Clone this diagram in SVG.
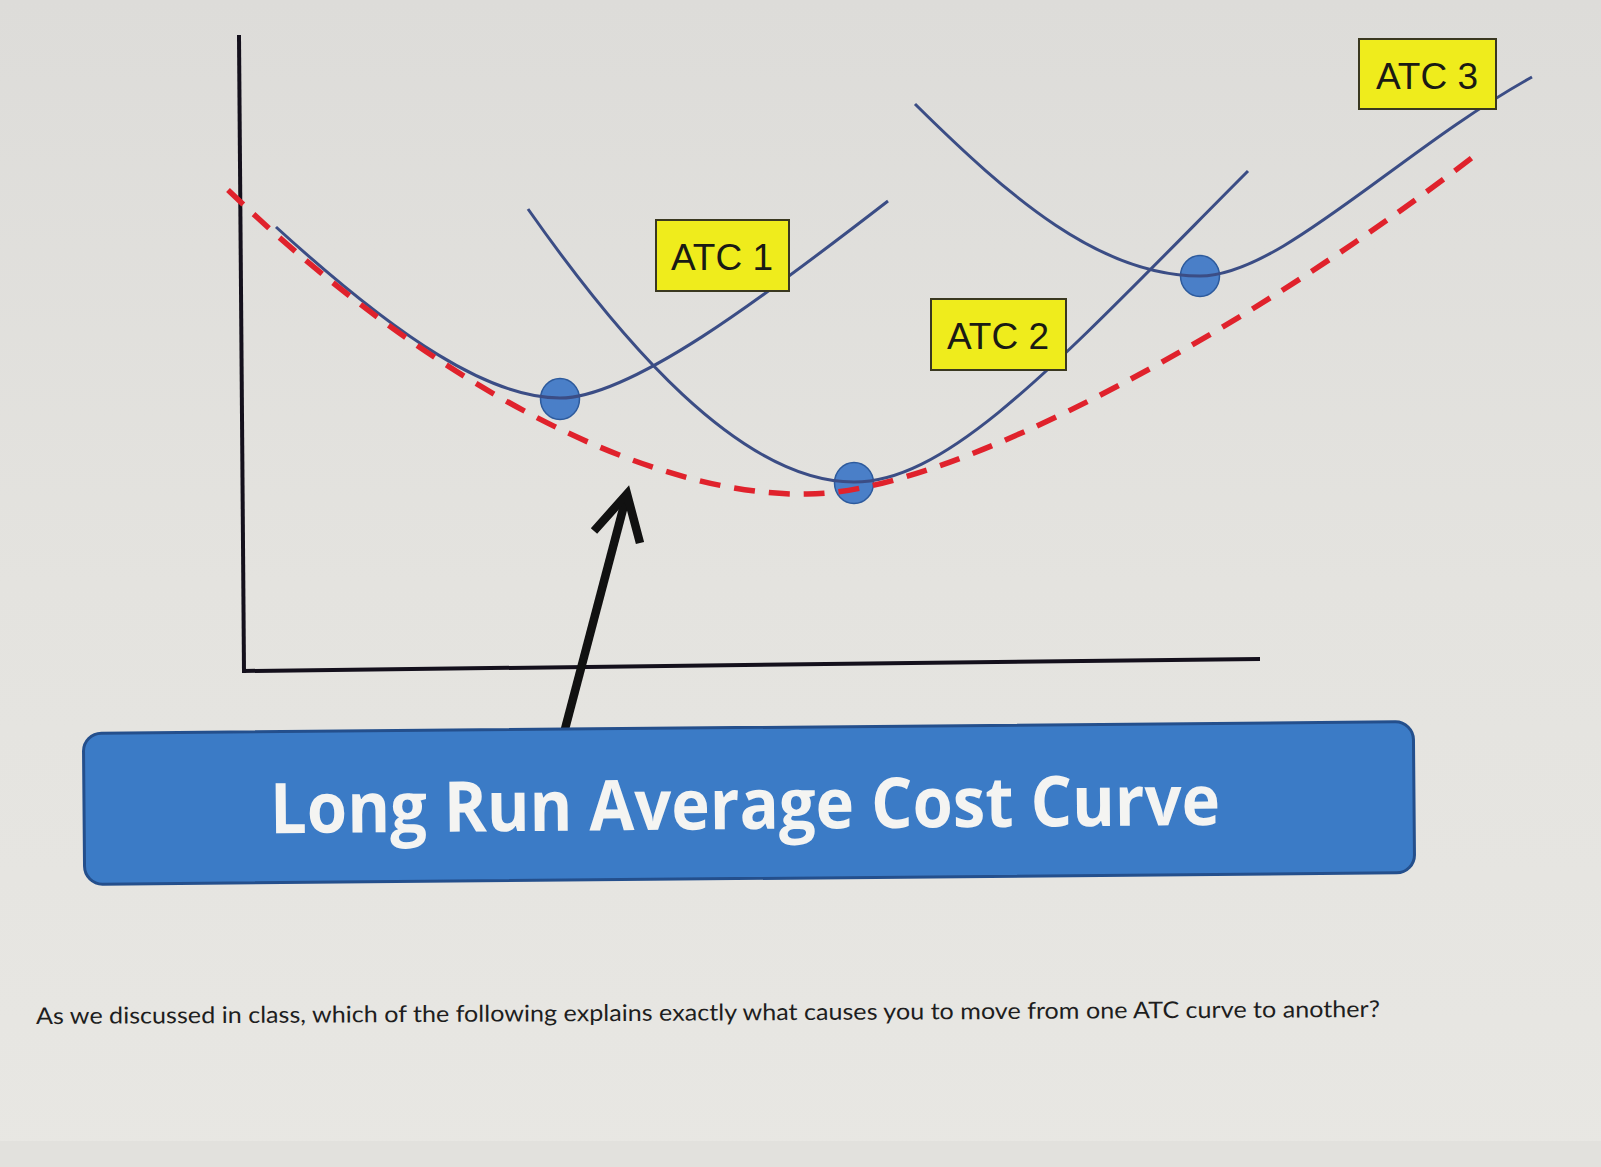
<svg xmlns="http://www.w3.org/2000/svg" width="1601" height="1167" viewBox="0 0 1601 1167">
  <defs>
    <linearGradient id="bg" x1="0" y1="0" x2="0" y2="1">
      <stop offset="0" stop-color="#dddcd9"/>
      <stop offset="0.5" stop-color="#e4e3df"/>
      <stop offset="1" stop-color="#e8e7e3"/>
    </linearGradient>
    <style>
      .axis { stroke: #14101c; stroke-width: 4; fill: none; stroke-linecap: square; }
      .atc { stroke: #3b4d85; stroke-width: 3; fill: none; }
      .lrac { stroke: #e0222c; stroke-width: 5.5; fill: none; stroke-dasharray: 21 14; }
      .dot { fill: #4a7fc8; stroke: #2d5a9c; stroke-width: 1.5; }
      .lbl rect { fill: #efec1c; stroke: #3a3820; stroke-width: 2; }
      .lbl text { font-family: "Liberation Sans", Arial, sans-serif; font-size: 37px; fill: #1a1a14; text-anchor: middle; }
      .arrow { stroke: #111; stroke-width: 8.5; fill: none; }
      .banner rect { fill: #3b7bc6; stroke: #244f8c; stroke-width: 3; }
      .banner text { font-family: "Open Sans", "DejaVu Sans", sans-serif; font-weight: bold; font-size: 70px; fill: #f4f4f2; text-anchor: middle; }
      .question { font-family: "Lato", "Open Sans", sans-serif; font-size: 23px; fill: #1e1e1e; }
    </style>
  </defs>

  <rect x="0" y="0" width="1601" height="1167" fill="url(#bg)"/>
  <rect x="0" y="1141" width="1601" height="26" fill="#e2e1dd"/>

  <g id="axes">
    <line class="axis" x1="239" y1="37" x2="244" y2="671"/>
    <line class="axis" x1="244" y1="671" x2="1258" y2="659"/>
  </g>

  <g id="dots">
    <ellipse id="dot1" class="dot" cx="560" cy="399" rx="19.5" ry="20.5"/>
    <ellipse id="dot2" class="dot" cx="854" cy="483" rx="19.5" ry="20.5"/>
    <ellipse id="dot3" class="dot" cx="1200" cy="276" rx="19.5" ry="20.5"/>
  </g>

  <g id="connectors">
    <path id="atc1-curve" class="atc" d="M276,227 C400,340 490,398 560,398 C630,398 760,300 888,201"/>
    <path id="atc2-curve" class="atc" d="M528,209 C620,340 740,482 854,482 C950,482 1060,360 1248,171"/>
    <path id="atc3-curve" class="atc" d="M915,104 C1010,198 1100,276 1200,276 C1280,276 1400,150 1532,77"/>
    <path id="lrac-curve" class="lrac" d="M228,190 C430,385 650,497 807,494 C950,494 1250,330 1482,150"/>
    <g id="pointer-arrow">
      <line class="arrow" x1="565" y1="729" x2="627" y2="494"/>
      <polyline class="arrow" points="594,531 627,494 640,543" stroke-linejoin="miter"/>
    </g>
  </g>

  <g id="atc1-label" class="lbl">
    <rect x="656" y="220" width="133" height="71"/>
    <text x="722" y="270">ATC 1</text>
  </g>
  <g id="atc2-label" class="lbl">
    <rect x="931" y="299" width="135" height="71"/>
    <text x="998" y="349">ATC 2</text>
  </g>
  <g id="atc3-label" class="lbl">
    <rect x="1359" y="39" width="137" height="70"/>
    <text x="1427" y="89">ATC 3</text>
  </g>

  <g id="lrac-banner" class="banner" transform="rotate(-0.5 749 803)">
    <rect x="84" y="727.5" width="1330" height="151" rx="18" ry="18"/>
    <text x="745" y="829" textLength="950" lengthAdjust="spacingAndGlyphs">Long Run Average Cost Curve</text>
  </g>

  <text class="question" x="36" y="1024" textLength="1344" lengthAdjust="spacingAndGlyphs" transform="rotate(-0.3 36 1024)">As we discussed in class, which of the following explains exactly what causes you to move from one ATC curve to another?</text>
</svg>
